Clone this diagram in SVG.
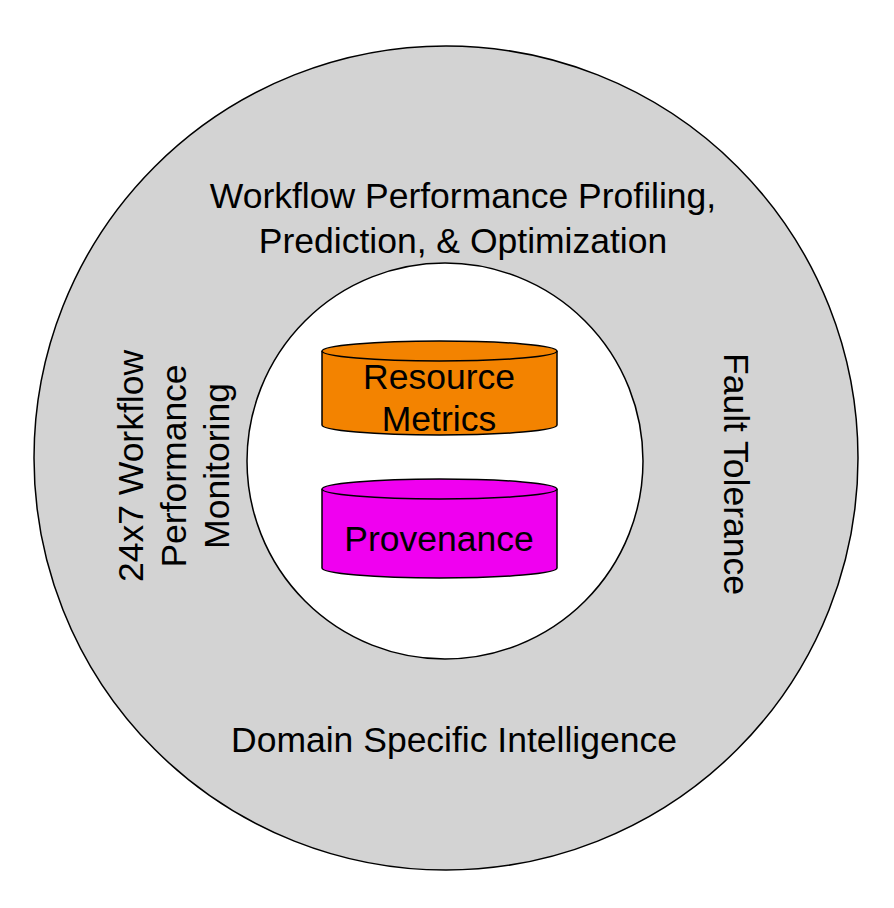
<svg xmlns="http://www.w3.org/2000/svg" width="894" height="908" viewBox="0 0 894 908">
<style>
text{font-family:"Liberation Sans",Arial,sans-serif;font-size:35.5px;fill:#000;text-anchor:middle}
.c{stroke:#000;stroke-width:1.5}
</style>
<rect width="894" height="908" fill="#fff"/>
<g id="outer"><circle cx="446" cy="458" r="412" fill="#d3d3d3" class="c"/></g>
<g id="inner"><circle cx="445" cy="461" r="198" fill="#fff" class="c"/></g>
<g id="profiling"><text x="463" y="208">Workflow Performance Profiling,</text><text x="463" y="253">Prediction, &amp; Optimization</text></g>
<g id="domain"><text x="454" y="752">Domain Specific Intelligence</text></g>
<g id="monitoring" transform="translate(175,466) rotate(-90)"><text x="0" y="-32">24x7 Workflow</text><text x="0" y="11">Performance</text><text x="0" y="54">Monitoring</text></g>
<g id="fault" transform="translate(716,474) rotate(90)"><text x="0" y="-8">Fault Tolerance</text></g>
<g id="metrics">
<path d="M322,351 V425 A117.5,10 0 0 0 557,425 V351" fill="#f38300" class="c"/>
<ellipse cx="439.5" cy="351" rx="117.5" ry="10" fill="#f38300" class="c"/>
<text x="439" y="389">Resource</text><text x="439" y="431">Metrics</text>
</g>
<g id="provenance">
<path d="M322,489 V568 A117.5,10 0 0 0 557,568 V489" fill="#f000f0" class="c"/>
<ellipse cx="439.5" cy="489" rx="117.5" ry="10" fill="#f000f0" class="c"/>
<text x="439" y="551">Provenance</text>
</g>
<g id="connectors"/>
</svg>
